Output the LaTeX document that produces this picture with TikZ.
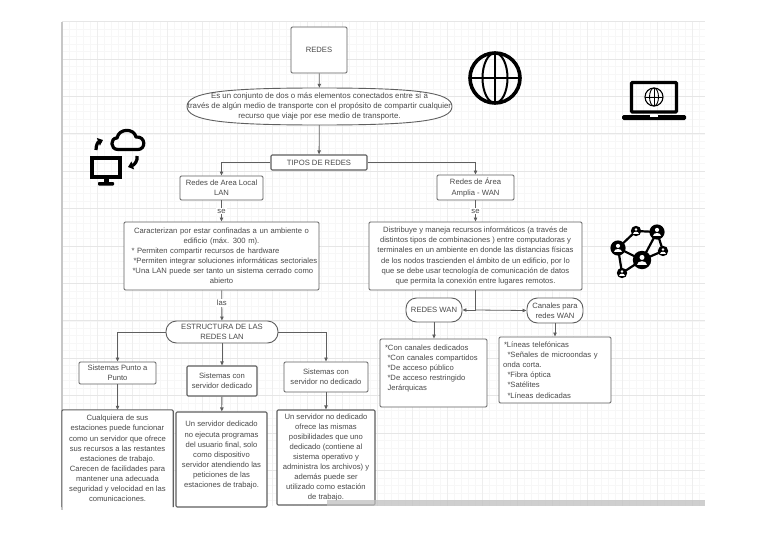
\documentclass[tikz,border=0pt]{standalone}
\usepackage{fontspec}
\setmainfont{Liberation Sans}
\usetikzlibrary{arrows.meta}
\definecolor{ink}{HTML}{4A4A4A}
\definecolor{edge}{HTML}{5F5F5F}
\definecolor{gminor}{HTML}{F7F7F7}
\definecolor{gmajor}{HTML}{EEEEEE}
\definecolor{gmajorh}{HTML}{E6E6E6}
\newcommand{\cl}[1]{\makebox[\linewidth][c]{#1}}
\newcommand{\ind}[2]{\hspace*{#1pt}\mbox{#2}}
\newcommand{\pnode}[3]{%
  \fill[black] (#1,#2) circle (#3);
  \fill[white] (#1,#2-0.28*#3) circle (0.27*#3);
  \fill[white] (#1-0.5*#3,#2+0.52*#3) .. controls (#1-0.5*#3,#2-0.02*#3) and (#1+0.5*#3,#2-0.02*#3) .. (#1+0.5*#3,#2+0.52*#3) -- cycle;}
\tikzset{
  box/.style={draw=edge,line width=0.9pt,rounded corners=1.2pt,fill=white,inner sep=0pt,text=ink,
    font=\fontsize{7.65}{10.1}\selectfont,align=center},
  heavy/.style={box,line width=1.1pt},
  pill/.style={box,rounded corners=10.5pt},
  txt/.style={inner sep=0pt,text=ink,font=\fontsize{7.65}{10.1}\selectfont,align=center},
  link/.style={draw=edge,line width=0.8pt,-{Triangle[length=4pt,width=3.4pt]}},
  plain/.style={draw=edge,line width=0.8pt},
  lab/.style={txt,fill=white,inner sep=1pt},
  icon/.style={draw=black,line width=3.2pt},
}
\begin{document}
\begin{tikzpicture}[x=1pt,y=-1pt]
\useasboundingbox (0,0) rectangle (768,543);
\fill[white] (0,0) rectangle (768,543);
% grid
\begin{scope}
\clip (62,22) rectangle (705,506);
\foreach \k in {0,...,92}{\draw[gminor,line width=0.6pt] ({62+7*\k},22) -- ({62+7*\k},506);}
\foreach \k in {0,...,66}{\draw[gminor,line width=0.6pt] (62,{433-7.48*(\k-11)}) -- (705,{433-7.48*(\k-11)});}
\foreach \k in {0,...,18}{\draw[gmajor,line width=0.6pt] ({62+35*\k},22) -- ({62+35*\k},506);}
\foreach \k in {-2,...,11}{\draw[gmajorh,line width=0.7pt] (62,{433-37.4*\k}) -- (705,{433-37.4*\k});}
\end{scope}
\draw[draw=black!22,line width=1.6pt] (62,22) -- (62,510);

% nodes
\node[box,minimum width=56pt,minimum height=46pt] (redes) at (319,50) {REDES};
\draw[draw=edge,line width=0.9pt,fill=white] (187,106.5)
  .. controls (187,92) and (225,88) .. (319.5,88)
  .. controls (414,88) and (452,92) .. (452,106.5)
  .. controls (452,121) and (414,125) .. (319.5,125)
  .. controls (225,125) and (187,121) .. (187,106.5) -- cycle;
\node[txt,font=\fontsize{7.85}{10.1}\selectfont,minimum width=265pt,minimum height=37pt] (defn) at (319.5,106.5) {Es un conjunto de dos o más elementos conectados entre sí a\\través de algún medio de transporte con el propósito de compartir cualquier\\recurso que viaje por ese medio de transporte.};
\node[heavy,minimum width=96pt,minimum height=15pt] (tipos) at (319,162.5) {TIPOS DE REDES};
\node[box,minimum width=83pt,minimum height=24pt] (lan) at (221.5,188) {Redes de Area Local\\LAN};
\node[box,minimum width=77pt,minimum height=25pt] (wan) at (475.5,187.5) {Redes de Área\\Amplia - WAN};
\node[box,minimum width=195pt,minimum height=68pt,text width=190pt,align=left] (landesc) at (221.5,256) {%
\cl{Caracterizan por estar confinadas a un ambiente o}\\
\cl{edificio (máx. 300 m).}\\
\ind{5}{* Permiten compartir recursos de hardware}\\
\ind{7}{*Permiten integrar soluciones informáticas sectoriales}\\
\ind{6}{*Una LAN puede ser tanto un sistema cerrado como}\\
\cl{abierto}};
\node[box,minimum width=213pt,minimum height=68pt] (wandesc) at (475.5,256) {%
Distribuye y maneja recursos informáticos (a través de\\
distintos tipos de combinaciones ) entre computadoras y\\
terminales en un ambiente en donde las distancias físicas\\
de los nodos trascienden el ámbito de un edificio, por lo\\
que se debe usar tecnología de comunicación de datos\\
que permita la conexión entre lugares remotos.};
\coordinate (fork) at (wandesc.south |- 0,310);
\node[pill,minimum width=56pt,minimum height=24pt] (redeswan) at (434,310) {REDES WAN};
\node[pill,minimum width=56pt,minimum height=25pt] (canales) at (555,310.5) {Canales para\\redes WAN};
\node[box,minimum width=107pt,minimum height=68pt,text width=102pt,align=left] (wanlist) at (433.5,373) {%
\ind{2.5}{*Con canales dedicados}\\
\ind{5}{*Con canales compartidos}\\
\ind{5}{*De acceso público}\\
\ind{5}{*De acceso restringido}\\
\ind{5}{Jerárquicas}\\~};
\node[box,minimum width=112pt,minimum height=66pt,text width=107pt,align=left] (canlist) at (555,370) {%
\ind{2.5}{*Líneas telefónicas}\\
\ind{6}{*Señales de microondas y}\\
\ind{1.5}{onda corta.}\\
\ind{6}{*Fibra óptica}\\
\ind{6}{*Satélites}\\
\ind{6}{*Líneas dedicadas}};
\node[pill,minimum width=112pt,minimum height=22pt] (estr) at (222,332) {ESTRUCTURA DE LAS\\REDES LAN};
\node[box,minimum width=77pt,minimum height=22pt] (punto) at (117.5,373) {Sistemas Punto a\\Punto};
\node[heavy,minimum width=70pt,minimum height=30pt] (ded) at (222,381) {Sistemas con\\servidor dedicado};
\node[box,minimum width=84pt,minimum height=30pt] (nod) at (326,377) {Sistemas con\\servidor no dedicado};
\node[txt,fill=white,minimum width=111pt,minimum height=97pt] (b1) at (117.5,458.5) {%
Cualquiera de sus\\estaciones puede funcionar\\como un servidor que ofrece\\sus recursos a las restantes\\estaciones de trabajo.\\Carecen de facilidades para\\mantener una adecuada\\seguridad y velocidad en las\\comunicaciones.};
\draw[edge,line width=1.1pt,rounded corners=1.2pt] (b1.south west) |- (b1.north east) -- (b1.south east);
\node[heavy,minimum width=91pt,minimum height=95pt] (b2) at (221.5,459.5) {%
Un servidor dedicado\\no ejecuta programas\\del usuario final, solo\\como dispositivo\\servidor atendiendo las\\peticiones de las\\estaciones de trabajo.\\~};
\node[heavy,minimum width=98pt,minimum height=95pt] (b3) at (326,457.5) {%
Un servidor no dedicado\\ofrece las mismas\\posibilidades que uno\\dedicado (contiene al\\sistema operativo y\\administra los archivos) y\\además puede ser\\utilizado como estación\\de trabajo.};

% connectors
\draw[link] (redes) -- (defn);
\draw[link] (defn) -- (tipos);
\draw[link] (tipos.west) -| (lan.north);
\draw[link] (tipos.east) -| (wan.north);
\draw[link] (lan) -- node[lab] (se1) {se} (landesc);
\draw[link] (wan) -- node[lab] (se2) {se} (wandesc);
\draw[link] (landesc) -- node[lab,pos=0.42] (las) {las} (estr);
\draw[plain] (wandesc.south) -- (fork);
\draw[link] (fork) -- (redeswan.east);
\draw[link] (fork) -- (canales.west);
\draw[link] (redeswan) -- (redeswan.south |- wanlist.north);
\draw[link] (canales) -- (canlist);
\draw[link] (estr.west) -| (punto.north);
\draw[link] (estr) -- (ded);
\draw[link] (estr.east) -| (nod.north);
\draw[link] (punto) -- (b1);
\draw[link] (ded) -- (b2);
\draw[link] (nod) -- (b3);

% grey strip
\fill[black!25,opacity=0.75] (327,500) rectangle (705,506);

% globe
\draw[icon,line width=3.6pt] (495,78) circle (25);
\draw[black,line width=2pt] (495,78) ellipse (12.5 and 25);
\draw[black,line width=2pt] (495,53) -- (495,103);
\draw[black,line width=2pt] (470,78) -- (520,78);

% laptop
\draw[icon,rounded corners=1pt] (631.5,112) -- (631.5,82.5) -- (676.5,82.5) -- (676.5,112) -- cycle;
\fill[black,rounded corners=1.5pt] (622,115) rectangle (686,120);
\fill[white] (650,115) rectangle (658,117);
\draw[black,line width=1.1pt] (654,97) circle (9);
\draw[black,line width=.9pt] (654,97) ellipse (4.5 and 9);
\draw[black,line width=.9pt] (654,88) -- (654,106);
\draw[black,line width=.9pt] (645,97) -- (663,97);

% computer and cloud
\draw[icon,line width=3.6pt] (91.8,157.8) rectangle (120.2,177.2);
\fill[black] (103.5,179) rectangle (108.5,183);
\fill[black,rounded corners=.8pt] (98,182) rectangle (114,185.5);
\draw[black,line width=3.2pt,line join=round] (118,149.5) .. controls (110,149.5) and (110,138) .. (117,138) .. controls (119,128) and (134,128) .. (136,137) .. controls (146,136) and (146,149.5) .. (138,149.5) -- cycle;
\draw[black,line width=3.2pt,-{Triangle[length=5pt,width=8pt]}] (96,150) .. controls (96,145) and (98,142) .. (103,140);
\draw[black,line width=3.2pt,-{Triangle[length=5pt,width=8pt]}] (137,156) .. controls (138,161) and (134,165) .. (128,167);

% network
\draw[black,line width=2.2pt] (618,248) -- (636,231) -- (657,232) -- (642,260) -- (618,248) -- (622,273) -- (642,260);
\draw[black,line width=2.2pt] (657,232) -- (663,251) -- (642,260);
\pnode{642}{260}{9.2}
\pnode{618}{248}{7.6}
\pnode{657}{232}{7.6}
\pnode{636}{231}{5.2}
\pnode{663}{251}{5.2}
\pnode{622}{273}{5.2}
\end{tikzpicture}
\end{document}
